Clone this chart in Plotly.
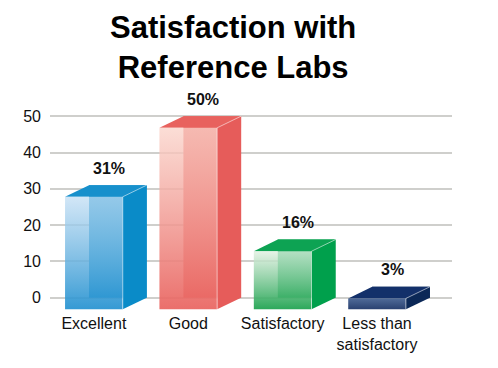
import plotly.graph_objects as go

# ---- data ----
categories = ["Excellent", "Good", "Satisfactory", "Less than<br>satisfactory"]
values = [31, 50, 16, 3]
value_labels = ["31%", "50%", "16%", "3%"]
y_ticks = [0, 10, 20, 30, 40, 50]
title_text = "Satisfaction with<br>Reference Labs"

# ---- style ----
side_colors = ["#0a8bc8", "#e65c5a", "#00a04c", "#0b2857"]
top_colors = ["#1790cc", "#e8625e", "#0da353", "#13306a"]
front_top = ["rgba(195,222,244,0.75)", "rgba(250,212,202,0.78)", "rgba(225,240,225,0.8)", "rgba(60,90,140,0.9)"]
front_bot = ["rgba(35,145,208,0.92)", "rgba(233,100,96,0.93)", "rgba(28,162,78,0.93)", "rgba(30,55,105,0.95)"]

HALF_W = 0.3056   # half bar width (x units)
DX = 0.254        # depth offset in x units
DY = 3.2          # depth offset in y units
FONT = "Liberation Sans, Arial, Helvetica, sans-serif"

fig = go.Figure()

for i, v in enumerate(values):
    x0, x1 = i - HALF_W, i + HALF_W
    # back face
    fig.add_trace(go.Scatter(
        x=[x0 + DX, x1 + DX, x1 + DX, x0 + DX, x0 + DX],
        y=[0, 0, v, v, 0],
        fill="toself", fillcolor=side_colors[i], mode="lines",
        line=dict(width=0), hoverinfo="skip", showlegend=False))
    # side face
    fig.add_trace(go.Scatter(
        x=[x1, x1 + DX, x1 + DX, x1, x1],
        y=[-DY, 0, v, v - DY, -DY],
        fill="toself", fillcolor=side_colors[i], mode="lines",
        line=dict(width=0), hoverinfo="skip", showlegend=False))
    # top face
    fig.add_trace(go.Scatter(
        x=[x0, x1, x1 + DX, x0 + DX, x0],
        y=[v - DY, v - DY, v, v, v - DY],
        fill="toself", fillcolor=top_colors[i], mode="lines",
        line=dict(width=0), hoverinfo="skip", showlegend=False))
    # front face (semi-transparent gradient)
    fig.add_trace(go.Scatter(
        x=[x0, x1, x1, x0, x0],
        y=[-DY, -DY, v - DY, v - DY, -DY],
        fill="toself", mode="lines",
        fillgradient=dict(type="vertical",
                          colorscale=[[0, front_bot[i]], [1, front_top[i]]]),
        line=dict(width=0), hoverinfo="skip", showlegend=False))
    # highlight edges
    fig.add_trace(go.Scatter(
        x=[x1, x1, x1 + DX],
        y=[-DY, v - DY, v],
        mode="lines", line=dict(color="rgba(255,255,255,0.55)", width=1),
        hoverinfo="skip", showlegend=False))

for i, v in enumerate(values):
    fig.add_annotation(x=i, y=v, text="<b>" + value_labels[i] + "</b>",
                       showarrow=False, xshift=15, yshift=17,
                       font=dict(family=FONT, size=16, color="#111111"))

fig.add_annotation(x=(225 - 42) / 402, xref="paper", xanchor="center",
                   y=(304 - 39) / 224, yref="paper", yanchor="middle",
                   text="<b>" + title_text + "</b>", showarrow=False,
                   font=dict(family=FONT, size=31, color="#000000"))

# page body has an 8px margin, so the figure is 8px smaller than the window
fig.update_layout(
    width=490, height=360,
    margin=dict(l=42, r=46, t=80, b=56),
    paper_bgcolor="white", plot_bgcolor="white",
    showlegend=False,
    xaxis=dict(range=[-0.465, 3.794], tickvals=list(range(len(categories))), ticktext=categories,
               showgrid=False, zeroline=False, showline=False, ticks="", tickangle=0,
               automargin=False,
               tickfont=dict(family=FONT, size=16, color="#111111"),
               fixedrange=True),
    yaxis=dict(range=[-3.94, 57.77], tickvals=y_ticks, showgrid=True, gridcolor="#cfcfcc", gridwidth=1.5,
               zeroline=False, showline=False, ticks="", automargin=False,
               tickfont=dict(family=FONT, size=16, color="#111111"),
               ticklabelstandoff=8, fixedrange=True),
)

fig.write_html("out.html")
